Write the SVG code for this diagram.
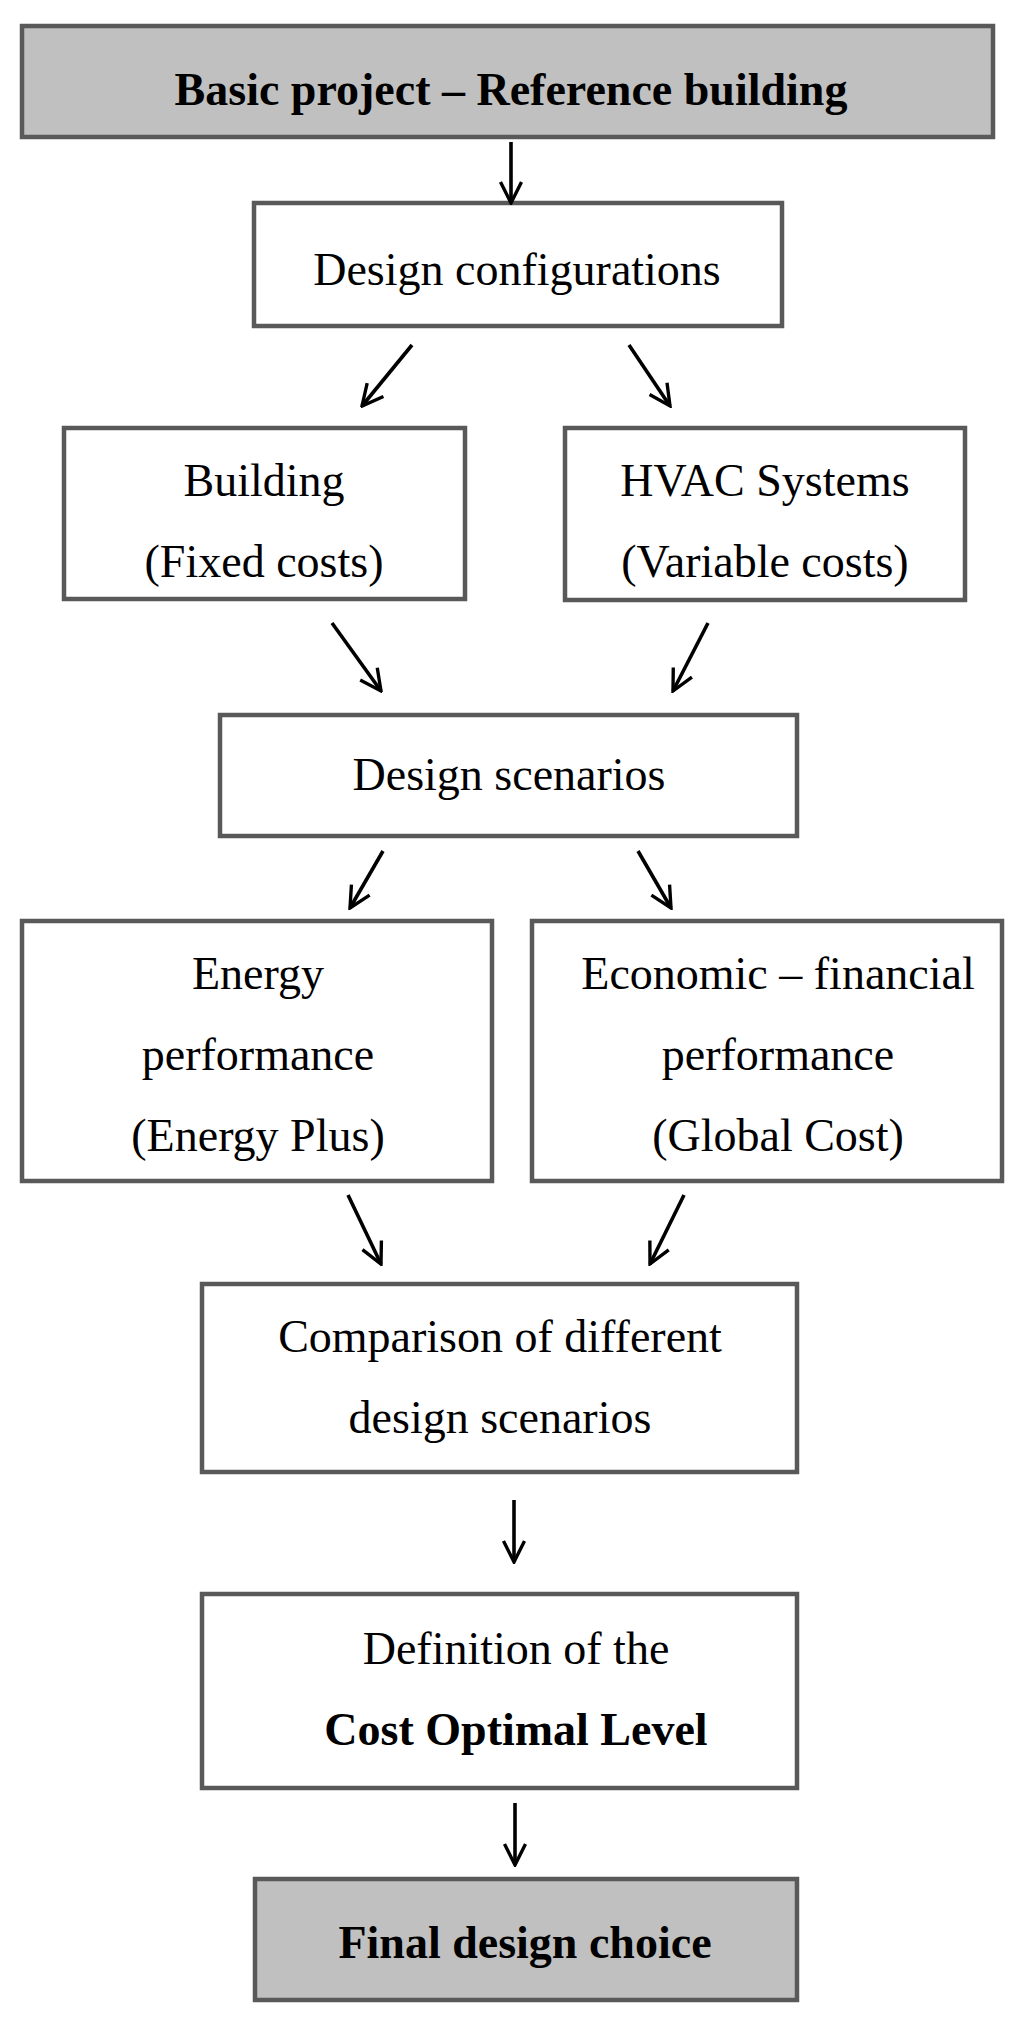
<svg xmlns="http://www.w3.org/2000/svg" width="1024" height="2031" viewBox="0 0 1024 2031">
<style>
.box{fill:#fff;stroke:#595959;stroke-width:4.5}
.gray{fill:#c0c0c0}
text{font-family:"Liberation Serif","Times New Roman",serif;font-size:46px;fill:#000;text-anchor:middle}
.b{font-weight:bold}
.c line{stroke:#000;stroke-width:3.6;marker-end:url(#a)}
</style>
<defs>
<marker id="a" viewBox="0 0 12 12" refX="11" refY="6" markerWidth="7" markerHeight="7" orient="auto" markerUnits="strokeWidth">
<polyline points="1,1 11,6 1,11" fill="none" stroke="#000" stroke-width="1.6"/>
</marker>
</defs>
<g id="n1"><rect class="box gray" x="22" y="26" width="971" height="111"/><text class="b" x="511" y="105" font-size="65">Basic project – Reference building</text></g>
<g id="n2"><rect class="box" x="254" y="203" width="528" height="123"/><text x="517" y="285">Design configurations</text></g>
<g id="n3"><rect class="box" x="64" y="428" width="401" height="171"/><text x="264" y="496">Building</text><text x="264" y="577">(Fixed costs)</text></g>
<g id="n4"><rect class="box" x="565" y="428" width="400" height="172"/><text x="765" y="496">HVAC Systems</text><text x="765" y="577">(Variable costs)</text></g>
<g id="n5"><rect class="box" x="220" y="715" width="577" height="121"/><text x="509" y="790">Design scenarios</text></g>
<g id="n6"><rect class="box" x="22" y="921" width="470" height="260"/><text x="258" y="989">Energy</text><text x="258" y="1070">performance</text><text x="258" y="1151">(Energy Plus)</text></g>
<g id="n7"><rect class="box" x="532" y="921" width="470" height="260"/><text x="778" y="989">Economic – financial</text><text x="778" y="1070">performance</text><text x="778" y="1151">(Global Cost)</text></g>
<g id="n8"><rect class="box" x="202" y="1284" width="595" height="188"/><text x="500" y="1352">Comparison of different</text><text x="500" y="1433">design scenarios</text></g>
<g id="n9"><rect class="box" x="202" y="1594" width="595" height="194"/><text x="516" y="1664">Definition of the</text><text class="b" x="516" y="1745">Cost Optimal Level</text></g>
<g id="n10"><rect class="box gray" x="255" y="1879" width="542" height="121"/><text class="b" x="525" y="1958" font-size="65">Final design choice</text></g>
<g class="c" id="connectors">
<line x1="511" y1="142" x2="511" y2="203"/>
<line x1="412" y1="345" x2="362" y2="406"/>
<line x1="629" y1="345" x2="670" y2="406"/>
<line x1="332" y1="623" x2="381" y2="691"/>
<line x1="708" y1="623" x2="673" y2="691"/>
<line x1="383" y1="851" x2="350" y2="908"/>
<line x1="638" y1="851" x2="671" y2="908"/>
<line x1="348" y1="1195" x2="381" y2="1264"/>
<line x1="684" y1="1195" x2="650" y2="1264"/>
<line x1="514" y1="1500" x2="514" y2="1562"/>
<line x1="515" y1="1803" x2="515" y2="1865"/>
</g>
</svg>
